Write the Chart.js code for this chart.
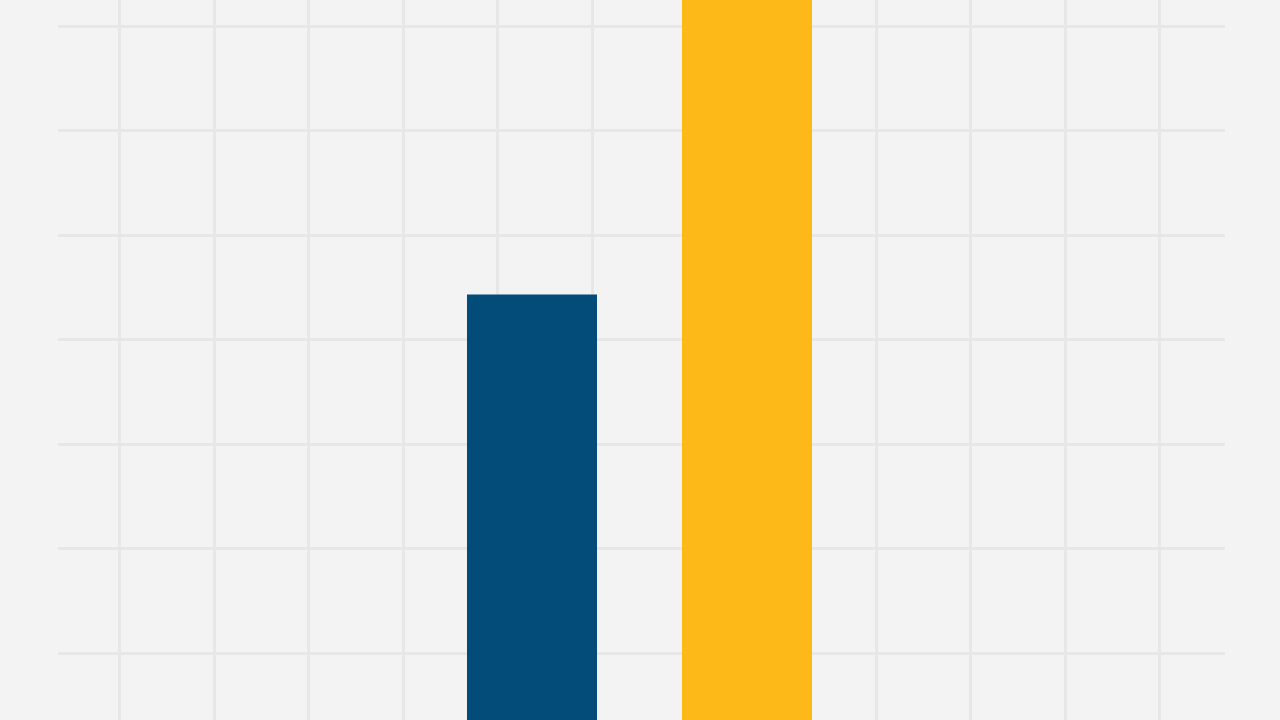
<!DOCTYPE html>
<html>
<head>
<meta charset="utf-8">
<script src="https://cdn.jsdelivr.net/npm/chart.js@4/dist/chart.umd.min.js"></script>
<style>
  html, body { margin: 0; padding: 0; background: #f3f3f3; overflow: hidden; width: 1280px; height: 720px; }
  #wrap { position: relative; width: 1280px; height: 760px; }
  canvas { position: absolute; left: 0; top: 0; }
</style>
</head>
<body>
<div id="wrap">
  <canvas id="grid" width="1280" height="760"></canvas>
  <canvas id="bars" width="1280" height="760"></canvas>
</div>
<script>
// ---- data ----
const categories = ['A', 'B'];
const values = [4.43, 7.8];
const barColors = ['#034b78', '#fdb917'];

// ---- scale ranges (grid units) ----
const yMin = 0;
const yMax = 7.249;
const gridXMin = -0.656;
const gridXMax = 11.693;

const gridColor = '#e7e7e7';

Chart.defaults.animation = false;

// background grid chart
new Chart(document.getElementById('grid'), {
  type: 'scatter',
  data: { datasets: [{ data: [] }] },
  options: {
    responsive: false,
    animation: false,
    layout: { padding: { left: 58, right: 55, top: 0, bottom: 2.5 } },
    plugins: { legend: { display: false }, tooltip: { enabled: false } },
    scales: {
      x: {
        type: 'linear', min: gridXMin, max: gridXMax,
        ticks: { display: false, stepSize: 1, includeBounds: false },
        grid: { color: gridColor, lineWidth: 3, drawTicks: false },
        border: { display: false }
      },
      y: {
        type: 'linear', min: yMin, max: yMax,
        ticks: { display: false, stepSize: 1, includeBounds: false },
        grid: { color: gridColor, lineWidth: 3, drawTicks: false },
        border: { display: false }
      }
    }
  }
});

// bars chart
new Chart(document.getElementById('bars'), {
  type: 'bar',
  data: {
    labels: categories,
    datasets: [{
      data: values,
      backgroundColor: barColors,
      borderWidth: 0,
      categoryPercentage: 1,
      barPercentage: 0.6047
    }]
  },
  options: {
    responsive: false,
    animation: false,
    layout: { padding: { left: 424.5, right: 425.5, top: 0, bottom: 2.5 } },
    plugins: { legend: { display: false }, tooltip: { enabled: false } },
    scales: {
      x: { display: false },
      y: { display: false, min: yMin, max: yMax }
    }
  }
});
</script>
</body>
</html>
